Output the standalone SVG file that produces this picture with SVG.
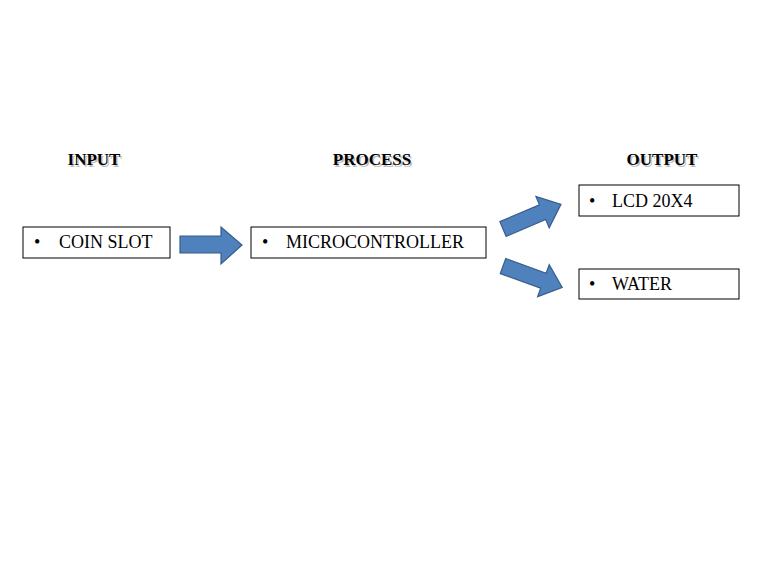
<svg xmlns="http://www.w3.org/2000/svg" width="768" height="576" viewBox="0 0 768 576">
<style>
.h{font-family:"Liberation Serif",serif;font-weight:bold;font-size:17px;text-anchor:middle;fill:#000}
.hs{font-family:"Liberation Serif",serif;font-weight:bold;font-size:17px;text-anchor:middle;fill:#999;opacity:0.6}
.box{fill:#fff;stroke:#000;stroke-width:1}
.t{font-family:"Liberation Serif",serif;font-size:18px;fill:#000}
.arr{fill:#4f81bd;stroke:#385d8a;stroke-width:1.2}
</style>
<defs><path id="a" d="M0,-8 L43,-8 L43,-17 L63,0 L43,17 L43,8 L0,8 Z"/></defs>
<rect width="768" height="576" fill="#fff"/>
<g id="headers">
<text class="hs" x="95.5" y="166.5">INPUT</text><text class="h" x="94" y="165">INPUT</text>
<text class="hs" x="373.5" y="166.5">PROCESS</text><text class="h" x="372" y="165">PROCESS</text>
<text class="hs" x="663.5" y="166.5">OUTPUT</text><text class="h" x="662" y="165">OUTPUT</text>
</g>
<g id="coin"><rect class="box" x="23" y="227" width="147" height="31"/><text class="t" x="34" y="248">•</text><text class="t" x="59" y="248">COIN SLOT</text></g>
<g id="micro"><rect class="box" x="251" y="227" width="235" height="31"/><text class="t" x="262" y="248">•</text><text class="t" x="286" y="248">MICROCONTROLLER</text></g>
<g id="lcd"><rect class="box" x="579" y="185" width="160" height="31"/><text class="t" x="589" y="207">•</text><text class="t" x="612" y="207">LCD 20X4</text></g>
<g id="water"><rect class="box" x="579" y="269" width="160" height="30"/><text class="t" x="589" y="290">•</text><text class="t" x="612" y="290">WATER</text></g>
<g id="connectors">
<path class="arr" d="M180,236 L221,236 L221,227 L242,245 L221,264 L221,253 L180,253 Z"/>
<use href="#a" class="arr" transform="translate(503,229) rotate(-23)"/>
<use href="#a" class="arr" transform="translate(503,266) rotate(20)"/>
</g>
</svg>
